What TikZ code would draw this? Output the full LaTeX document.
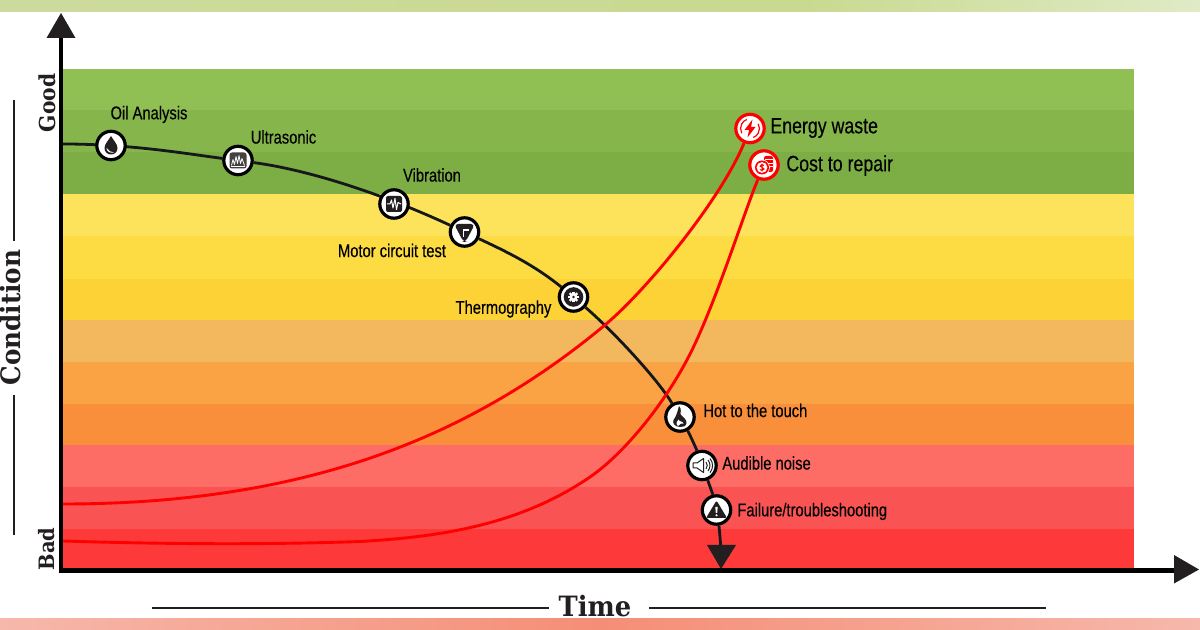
\documentclass[tikz,border=0pt]{standalone}
\usepackage{fontspec}
\setmainfont{Liberation Sans}[FakeStretch=0.8,FakeBold=0.25]
\newfontfamily\slabfont{DejaVu Serif}[FakeStretch=0.92]
\usetikzlibrary{backgrounds}
\definecolor{gA}{HTML}{90BF53}\definecolor{gB}{HTML}{86B64B}\definecolor{gC}{HTML}{7DAE45}
\definecolor{yA}{HTML}{FDE35B}\definecolor{yB}{HTML}{FCDB43}\definecolor{yC}{HTML}{FCD236}
\definecolor{oA}{HTML}{F3B85E}\definecolor{oB}{HTML}{F9A345}\definecolor{oC}{HTML}{F98F3A}
\definecolor{rA}{HTML}{FD6D66}\definecolor{rB}{HTML}{F95353}\definecolor{rC}{HTML}{FD3939}
\definecolor{ink}{HTML}{231F20}\definecolor{hot}{HTML}{FF0000}\definecolor{curveink}{HTML}{15171A}
\definecolor{topA}{HTML}{CDDA9E}\definecolor{topB}{HTML}{C9D98F}\definecolor{topC}{HTML}{E0EAC6}
\definecolor{botA}{HTML}{F6B8AB}\definecolor{botB}{HTML}{F58E76}
\tikzset{
  band/.style={fill=#1,draw=none},
  axisline/.style={line width=2.2pt,draw=black},
  headtip/.style={fill=ink,draw=none},
  rulerline/.style={line width=0.75pt,draw=ink},
  blackcurve/.style={line width=1.4pt,draw=curveink},
  redcurve/.style={line width=1.45pt,draw=hot},
  gauge/.style={circle,draw=black,fill=white,line width=1.6pt,minimum size=14.2pt,inner sep=0pt},
  redgauge/.style={circle,draw=hot,fill=white,line width=1.6pt,minimum size=14.2pt,inner sep=0pt},
  smalllabel/.style={font=\fontsize{9.2}{10}\selectfont,text=black,inner sep=0pt},
  biglabel/.style={font=\fontsize{11.1}{13}\selectfont,text=black,inner sep=0pt},
  axislabel/.style={font=\slabfont\bfseries\fontsize{#1}{14}\selectfont,text=ink,inner sep=0pt},
  solidicon/.style={fill=ink,draw=none},
  whiteicon/.style={fill=white,draw=none},
  wave/.style={draw=white,line width=0.4pt,line join=round},
  redicon/.style={fill=hot,draw=none}
}
\begin{document}
\begin{tikzpicture}[x=0.5pt,y=-0.5pt]
\useasboundingbox (0,0) rectangle (1200,630);
\begin{scope}[on background layer]
% top and bottom bars
\fill[left color=topA,right color=topB] (0,0) rectangle (800,12);
\fill[left color=topB,right color=topC] (800,0) rectangle (1200,12);
\fill[left color=botA,right color=botB] (0,618) rectangle (600,630);
\fill[left color=botB,right color=botA] (600,618) rectangle (1200,630);
% bands
\fill[band=gA] (63,69) rectangle (1134,110);
\fill[band=gB] (63,110) rectangle (1134,152);
\fill[band=gC] (63,152) rectangle (1134,194);
\fill[band=yA] (63,194) rectangle (1134,236);
\fill[band=yB] (63,236) rectangle (1134,279);
\fill[band=yC] (63,279) rectangle (1134,320);
\fill[band=oA] (63,320) rectangle (1134,362);
\fill[band=oB] (63,362) rectangle (1134,404);
\fill[band=oC] (63,404) rectangle (1134,445);
\fill[band=rA] (63,445) rectangle (1134,487);
\fill[band=rB] (63,487) rectangle (1134,529);
\fill[band=rC] (63,529) rectangle (1134,571);
\end{scope}
% named positions
\coordinate (origin) at (61,570.5);
\coordinate (ytop) at (61,36);
\coordinate (xend) at (1176,570.5);
\coordinate (bstart) at (63,144);
\coordinate (bend) at (721,550);
\coordinate (estart) at (63,504);
\coordinate (emid) at (605,325);
\coordinate (cstart) at (63,541);
\coordinate (cmidA) at (360,541.5);
\coordinate (cmidB) at (590,477);
\coordinate (cmidC) at (693,348);
\node[gauge] (oil) at (111,145.5) {};
\node[gauge] (ultra) at (238,160.5) {};
\node[gauge] (vib) at (394,204) {};
\node[gauge] (motor) at (464.5,232) {};
\node[gauge] (thermo) at (573.5,297) {};
\node[gauge] (touch) at (680,417) {};
\node[gauge] (noise) at (702,465.5) {};
\node[gauge] (fail) at (716.5,510) {};
\node[redgauge] (energy) at (750,128.5) {};
\node[redgauge] (cost) at (764,165) {};
% curves behind the gauges
\begin{scope}[on background layer]
\draw[blackcurve] (bstart) .. controls (130,144) and (185,153.5) .. (ultra)
  .. controls (313,170.5) and (389.5,197) .. (motor)
  .. controls (504.5,250.7) and (533.5,264.4) .. (thermo)
  .. controls (613.5,331.6) and (658,379.5) .. (touch)
  .. controls (689,433) and (696,448) .. (noise)
  .. controls (708,481) and (713,495) .. (fail)
  .. controls (718.5,522) and (720,535) .. (bend);
\draw[redcurve] (estart) .. controls (313,504) and (475,433) .. (emid)
  .. controls (650,287) and (722,197) .. (energy);
\draw[redcurve] (cstart) .. controls (160,544) and (260,545) .. (cmidA)
  .. controls (440,537) and (520,525) .. (cmidB)
  .. controls (625,453) and (668,400) .. (cmidC)
  .. controls (718,296) and (745,210) .. (cost);
\end{scope}
% axes
\draw[axisline] (ytop) -- (origin) -- (xend);
\fill[headtip] (46.5,38) -- (75.5,38) -- (61,13) -- cycle;
\fill[headtip] (1174,555) -- (1174,583.5) -- (1199,569.5) -- cycle;
\fill[headtip] (707,545) -- (736,545) -- (721,569) -- cycle;
% rulers
\coordinate (ta) at (152,608);\coordinate (tb) at (549,608);
\coordinate (tc) at (649,608);\coordinate (td) at (1046,608);
\draw[rulerline] (ta) -- (tb);\draw[rulerline] (tc) -- (td);
\coordinate (ca) at (14,100);\coordinate (cb) at (14,241);
\coordinate (cc) at (14,395);\coordinate (cd) at (14,535);
\draw[rulerline] (ca) -- (cb);\draw[rulerline] (cc) -- (cd);
% axis labels
\node[axislabel=14] (timelabel) at (595,606) {Time};
\node[axislabel=13.4,rotate=90] (condlabel) at (11,317.5) {Condition};
\node[axislabel=11,rotate=90] (goodlabel) at (47,103) {Good};
\node[axislabel=10.6,rotate=90] (badlabel) at (47,549) {Bad};
% labels
\node[smalllabel] (l1) at (149,114.5) {Oil Analysis};
\node[smalllabel] (l2) at (283.5,137) {Ultrasonic};
\node[smalllabel] (l3) at (432,175) {Vibration};
\node[smalllabel] (l4) at (392,250.5) {Motor circuit test};
\node[smalllabel] (l5) at (503.5,309) {Thermography};
\node[smalllabel,anchor=west] (l6) at (703,410.5) {Hot to the touch};
\node[smalllabel,anchor=west] (l7) at (722,463) {Audible noise};
\node[smalllabel,anchor=west] (l8) at (737,511.5) {Failure/troubleshooting};
\node[biglabel,anchor=west] (l9) at (770,128) {Energy waste};
\node[biglabel,anchor=west] (l10) at (786,165.5) {Cost to repair};
% oil icon
\begin{scope}[shift={(oil)}]
\fill[solidicon] (0,-9.5) .. controls (2.5,-5) and (6.5,-1.5) .. (6.5,2.5) .. controls (6.5,6.5) and (3.5,9) .. (0,9) .. controls (-3.5,9) and (-6.5,6.5) .. (-6.5,2.5) .. controls (-6.5,-1.5) and (-2.5,-5) .. (0,-9.5) -- cycle;
\fill[whiteicon] (-4.5,2.5) .. controls (-4.5,6) and (-1,8) .. (3,7) .. controls (0,6.5) and (-3,5.5) .. (-4.5,2.5) -- cycle;
\end{scope}
% ultrasonic icon
\begin{scope}[shift={(ultra)}]
\fill[ink!85,rounded corners=1.2pt] (-8.5,-8) rectangle (8.5,8);
\draw[wave] (-6.5,5) -- (-5,-1) -- (-3.5,4) -- (-2,-4) -- (-0.5,3) -- (1,-5) -- (2.5,3) -- (4,-2) -- (6.5,5);
\draw[wave] (-7,6) -- (7,6);
\end{scope}
% vibration icon
\begin{scope}[shift={(vib)}]
\fill[ink,rounded corners=1pt] (-8,-8) rectangle (8,8);
\draw[wave,line width=0.5pt] (-7,0) -- (-4,0) -- (-2.5,-4) -- (-1,4) -- (1,-5.5) -- (2.5,5.5) -- (4,-1.5) -- (7,0);
\end{scope}
% motor icon
\begin{scope}[shift={(motor)}]
\fill[ink,rounded corners=2pt] (-10.5,-8) -- (10.5,-8) -- (1,10) -- (-1,10) -- cycle;
\draw[white,line width=0.8pt] (-1,5) -- (-1,-2) -- (4,-2);
\end{scope}
% thermography icon
\begin{scope}[shift={(thermo)}]
\fill[ink] (0,0) circle (9.8);
\foreach \a in {0,45,...,315} \fill[whiteicon,rotate=\a] (-1.2,-5.4) rectangle (1.2,0);
\fill[whiteicon] (0,0) circle (4);
\fill[ink] (0,0) circle (1.3);
\end{scope}
% flame icon
\begin{scope}[shift={(touch)}]
\fill[solidicon] (-1,-11) .. controls (3,-7) and (-1,-4) .. (1,-2) .. controls (3,0) and (7,3) .. (6.5,6) .. controls (6,9.5) and (3,10) .. (0,10) .. controls (-5,10) and (-8,6) .. (-6.5,3) .. controls (-5.5,0) and (-3,-1) .. (-3,-4) .. controls (-3,-6) and (-1,-8) .. (-1,-11) -- cycle;
\fill[whiteicon] (-2,9) .. controls (-4.5,7) and (-3.5,4) .. (-1.5,2.5) .. controls (-1,5) and (3,4) .. (3.5,6.5) .. controls (2,6) and (0,6.5) .. (-2,9) -- cycle;
\end{scope}
% speaker icon
\begin{scope}[shift={(noise)}]
\draw[ink,line width=0.5pt,line join=round] (-9,-2.5) -- (-5,-2.5) -- (1.5,-7) -- (1.5,7) -- (-5,2.5) -- (-9,2.5) -- cycle;
\draw[ink,line width=0.5pt] (4,-3.5) arc (-40:40:5.4);
\draw[ink,line width=0.5pt] (6,-5.5) arc (-40:40:8.5);
\draw[ink,line width=0.5pt] (8,-7) arc (-40:40:11);
\end{scope}
% warning icon
\begin{scope}[shift={(fail)}]
\fill[ink,rounded corners=1pt] (0,-9.5) -- (10.5,8) -- (-10.5,8) -- cycle;
\fill[whiteicon] (-1.2,-3) -- (1.2,-3) -- (0.7,3) -- (-0.7,3) -- cycle;
\fill[whiteicon] (0,5.3) circle (1.2);
\end{scope}
% energy icon
\begin{scope}[shift={(energy)}]
\draw[hot,line width=0.6pt] (-8.2,4.7) arc (150:250:9.5);
\draw[hot,line width=0.6pt] (8.2,-4.7) arc (-30:70:9.5);
\fill[redicon] (2.5,-9) -- (-5.5,1.5) -- (-1,1.5) -- (-2.5,9) -- (5.5,-1.5) -- (1,-1.5) -- cycle;
\end{scope}
% cost icon
\begin{scope}[shift={(cost)}]
\fill[redicon,rounded corners=1pt] (0,-9) rectangle (9,7);
\draw[white,line width=0.4pt] (1,-5.5) -- (9,-5.5) (1,-2) -- (9,-2) (1,1.5) -- (9,1.5);
\fill[whiteicon] (-2,2.5) circle (7.8);
\fill[redicon] (-2,2.5) circle (7);
\fill[whiteicon] (-2,2.5) circle (5.4);
\draw[hot,line width=0.5pt] (0,0.4) .. controls (-1,-0.8) and (-4.2,-0.4) .. (-3.8,1.2) .. controls (-3.4,2.8) and (0,2.2) .. (0,4) .. controls (0,5.6) and (-3.4,5.8) .. (-4.2,4.6) (-2,-1.4) -- (-2,6.4);
\end{scope}
\end{tikzpicture}
\end{document}
